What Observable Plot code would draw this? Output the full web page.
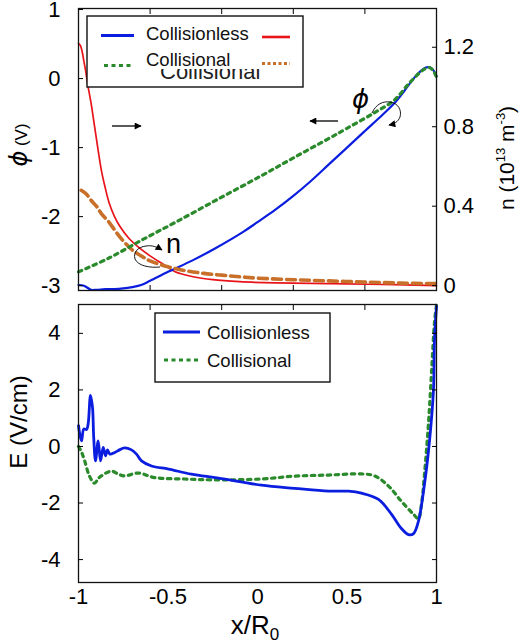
<!DOCTYPE html>
<html><head><meta charset="utf-8">
<script src="https://cdn.jsdelivr.net/npm/d3@7"></script>
<script src="https://cdn.jsdelivr.net/npm/@observablehq/plot@0.6"></script>
<style>
body{margin:0;background:#fff;font-family:"Liberation Sans",Arial,sans-serif}
#wrap{position:relative;width:520px;height:644px;overflow:hidden}
#overlay{position:absolute;left:0;top:0}
#top,#bot{display:block;line-height:0}
#top svg,#bot svg{overflow:visible}
</style></head><body>
<div id="wrap"><div id="top"></div><div id="bot"></div><svg id="overlay" width="520" height="644"></svg></div>
<script>
// ---------- data ----------
// Top panel: potential phi (V), left axis
const phiLessX = [-1, -0.97, -0.95, -0.93, -0.90, -0.85, -0.80, -0.75, -0.70, -0.65, -0.60, -0.50, -0.36, -0.23, -0.08, 0.0, 0.1, 0.2, 0.3, 0.4, 0.5, 0.6, 0.7, 0.76, 0.82, 0.86, 0.9, 0.94, 0.965, 0.985, 1.0];
const phiLess  = [-2.99, -3.0, -3.03, -3.06, -3.06, -3.05, -3.05, -3.04, -3.02, -2.99, -2.93, -2.80, -2.63, -2.45, -2.22, -2.08, -1.90, -1.70, -1.48, -1.24, -1.0, -0.76, -0.52, -0.37, -0.18, -0.04, 0.08, 0.16, 0.16, 0.11, 0.03];
const phiCollX = [-1, -0.83, -0.64, -0.457, -0.216, 0.02, 0.2, 0.39, 0.5, 0.65, 0.765, 0.843, 0.9, 0.935, 0.96, 0.98, 1.0];
const phiColl  = [-2.80, -2.60, -2.33, -2.08, -1.74, -1.41, -1.15, -0.88, -0.72, -0.50, -0.31, -0.08, 0.07, 0.14, 0.16, 0.12, 0.02];
// Top panel: density n (1e13 m^-3), right axis
const nLessX = [-1, -0.99, -0.98, -0.97, -0.96, -0.95, -0.93, -0.91, -0.89, -0.87, -0.85, -0.83, -0.80, -0.77, -0.72, -0.66, -0.60, -0.53, -0.46, -0.36, -0.25, -0.1, 0.1, 0.4, 0.7, 1.0];
const nLess  = [1.22, 1.21, 1.18, 1.13, 1.08, 1.02, 0.92, 0.80, 0.68, 0.57, 0.49, 0.42, 0.35, 0.30, 0.24, 0.19, 0.15, 0.11, 0.07, 0.045, 0.03, 0.02, 0.014, 0.01, 0.006, 0.0];
const nCollX = [-0.985, -0.955, -0.93, -0.90, -0.87, -0.83, -0.79, -0.75, -0.70, -0.65, -0.6, -0.5, -0.4, -0.3, -0.2, -0.1, 0, 0.2, 0.4, 0.6, 0.8, 1.0];
const nColl  = [0.48, 0.46, 0.43, 0.40, 0.36, 0.32, 0.27, 0.225, 0.18, 0.15, 0.125, 0.095, 0.075, 0.062, 0.053, 0.045, 0.038, 0.03, 0.024, 0.018, 0.013, 0.01];
// Bottom panel: electric field E (V/cm)
const eLessX = [-1, -0.993, -0.983, -0.970, -0.955, -0.946, -0.933, -0.922, -0.915, -0.905, -0.89, -0.877, -0.862, -0.849, -0.838, -0.825, -0.797, -0.771, -0.743, -0.704, -0.676, -0.648, -0.592, -0.497, -0.369, -0.218, 0.022, 0.207, 0.397, 0.508, 0.581, 0.676, 0.749, 0.804, 0.844, 0.872, 0.899, 0.933, 0.961, 0.983, 0.989, 1.0];
const eLess  = [0.74, 0.44, 0.2, 0.62, 0.6, 0.8, 1.81, 1.4, 0.32, -0.51, 0.2, -0.51, -0.03, -0.33, -0.12, -0.27, -0.21, -0.12, -0.05, -0.12, -0.27, -0.51, -0.69, -0.80, -0.98, -1.12, -1.37, -1.48, -1.58, -1.58, -1.65, -1.87, -2.4, -2.9, -3.12, -3.08, -2.65, -1.33, 0.2, 1.99, 3.78, 4.95];
const eCollX = [-1, -0.983, -0.966, -0.939, -0.911, -0.888, -0.872, -0.816, -0.777, -0.743, -0.665, -0.575, -0.408, -0.240, 0.022, 0.207, 0.397, 0.581, 0.654, 0.732, 0.804, 0.872, 0.899, 0.916, 0.933, 0.955, 0.972, 0.989, 1.0];
const eColl  = [0.0, -0.2, -0.5, -1.04, -1.3, -1.12, -1.04, -0.87, -0.98, -1.04, -0.94, -1.1, -1.15, -1.18, -1.15, -1.05, -1.01, -0.97, -1.04, -1.4, -1.94, -2.4, -2.55, -2.05, -0.97, 0.8, 2.6, 4.4, 5.0];
// tick values
const phiTicks = [1, 0, -1, -2, -3];
const nTicks = [0, 0.4, 0.8, 1.2];
const eTicks = [4, 2, 0, -2, -4];
const xLabelTicks = [-1, -0.5, 0, 0.5, 1];
const xMinorTicks = [-0.6, -0.2, 0.2, 0.6];
const seriesNames = ["Collisionless", "Collisional"];

// ---------- helpers ----------
const rows = (xs, ys) => xs.map((x, i) => ({x, y: ys[i]}));
const nToPhi = n => -3 + 2.878 * n;           // right-axis mapping onto the phi scale
const phiToN = p => (p + 3) / 2.878;
const FONT = "Liberation Sans, Arial, sans-serif";
const BLUE = "#0b1ee0", GREEN = "#2b8a2b", RED = "#e8141a", ORANGE = "#c8702a";
const fmt = d => String(Math.round(d * 10) / 10);

// ---------- top panel ----------
const topPlot = Plot.plot({
  width: 520, height: 300,
  marginTop: 8, marginBottom: 10, marginLeft: 78, marginRight: 84,
  x: {domain: [-1, 1]},
  y: {domain: [-3.07, 1.015]},
  style: {fontFamily: FONT, fontSize: "22px", background: "white", color: "black", overflow: "visible"},
  marks: [
    Plot.line(rows(nLessX, nLess), {x: "x", y: d => nToPhi(d.y), stroke: RED, strokeWidth: 1.7, curve: "catmull-rom"}),
    Plot.line(rows(phiLessX, phiLess), {x: "x", y: "y", stroke: BLUE, strokeWidth: 2.2, curve: "catmull-rom"}),
    Plot.line(rows(nCollX, nColl), {x: "x", y: d => nToPhi(d.y), stroke: ORANGE, strokeWidth: 3.6, strokeDasharray: "9 5", curve: "catmull-rom"}),
    Plot.line(rows(phiCollX, phiColl), {x: "x", y: "y", stroke: GREEN, strokeWidth: 3.2, strokeDasharray: "3.5 4.5", curve: "catmull-rom"}),
    Plot.frame({stroke: "#111", strokeWidth: 1.3}),
    Plot.axisY(phiTicks, {anchor: "left", tickSize: -5, tickPadding: 23, tickFormat: d => String(d), fontSize: 22, label: null}),
    Plot.axisY(nTicks.map(nToPhi), {anchor: "right", tickSize: -5, tickPadding: 12, tickFormat: d => fmt(phiToN(d)), fontSize: 22, label: null}),
    Plot.axisX(xMinorTicks, {anchor: "bottom", tickSize: -5, tickFormat: () => "", label: null}),
    Plot.axisX(xMinorTicks, {anchor: "top", tickSize: -5, tickFormat: () => "", label: null})
  ]
});
document.getElementById("top").append(topPlot);

// ---------- bottom panel ----------
const botPlot = Plot.plot({
  width: 520, height: 344,
  marginTop: 4, marginBottom: 62, marginLeft: 78, marginRight: 84,
  x: {domain: [-1, 1]},
  y: {domain: [-4.81, 5.02]},
  style: {fontFamily: FONT, fontSize: "22px", background: "white", color: "black", overflow: "visible"},
  marks: [
    Plot.line(rows(eCollX, eColl), {x: "x", y: "y", stroke: GREEN, strokeWidth: 3.2, strokeDasharray: "3.5 4.5", curve: "catmull-rom"}),
    Plot.line(rows(eLessX, eLess), {x: "x", y: "y", stroke: BLUE, strokeWidth: 2.8, curve: "catmull-rom"}),
    Plot.frame({stroke: "#111", strokeWidth: 1.3}),
    Plot.axisY(eTicks, {anchor: "left", tickSize: -5, tickPadding: 23, tickFormat: d => String(d), fontSize: 22, label: null}),
    Plot.axisY(eTicks, {anchor: "right", tickSize: -5, tickFormat: () => "", label: null}),
    Plot.axisX(xLabelTicks, {anchor: "bottom", tickSize: 0, tickPadding: 6, tickFormat: d => String(d), fontSize: 22, label: null}),
    Plot.axisX(xMinorTicks, {anchor: "top", tickSize: -5, tickFormat: () => "", label: null})
  ]
});
document.getElementById("bot").append(botPlot);

// ---------- overlay: legends, annotations, axis titles ----------
const svg = d3.select("#overlay").style("font-family", FONT);
const defs = svg.append("defs");
defs.append("marker").attr("id", "ah").attr("viewBox", "0 0 10 10")
  .attr("refX", 9).attr("refY", 5).attr("markerWidth", 9).attr("markerHeight", 7)
  .attr("markerUnits", "userSpaceOnUse").attr("orient", "auto")
  .append("path").attr("d", "M0,0L10,5L0,10z").attr("fill", "black");
defs.append("clipPath").attr("id", "ghostclip").append("rect")
  .attr("x", 150).attr("y", 69).attr("width", 130).attr("height", 17);

// top legend
const lg = svg.append("g");
lg.append("rect").attr("x", 87).attr("y", 16).attr("width", 216).attr("height", 71)
  .attr("fill", "white").attr("stroke", "#111").attr("stroke-width", 1.4);
lg.append("text").attr("x", 160).attr("y", 79).attr("font-size", 22).attr("fill", "#222")
  .attr("clip-path", "url(#ghostclip)").text(seriesNames[1]);
lg.append("line").attr("x1", 101).attr("x2", 134).attr("y1", 35.5).attr("y2", 35.5).attr("stroke", BLUE).attr("stroke-width", 3);
lg.append("line").attr("x1", 262).attr("x2", 290).attr("y1", 37).attr("y2", 37).attr("stroke", RED).attr("stroke-width", 2.6);
lg.append("line").attr("x1", 104).attr("x2", 134).attr("y1", 65.5).attr("y2", 65.5).attr("stroke", GREEN).attr("stroke-width", 3).attr("stroke-dasharray", "4,3.5");
lg.append("line").attr("x1", 262).attr("x2", 290).attr("y1", 63.5).attr("y2", 63.5).attr("stroke", ORANGE).attr("stroke-width", 3).attr("stroke-dasharray", "3,2.5");
lg.append("text").attr("x", 146).attr("y", 40).attr("font-size", 18.5).attr("fill", "#111").text(seriesNames[0]);
lg.append("text").attr("x", 146).attr("y", 66).attr("font-size", 18.5).attr("fill", "#111").text(seriesNames[1]);

// bottom legend
const lb = svg.append("g");
lb.append("rect").attr("x", 155).attr("y", 313).attr("width", 175).attr("height", 69)
  .attr("fill", "white").attr("stroke", "#111").attr("stroke-width", 1.4);
lb.append("line").attr("x1", 163).attr("x2", 200).attr("y1", 332).attr("y2", 332).attr("stroke", BLUE).attr("stroke-width", 3.2);
lb.append("line").attr("x1", 164).attr("x2", 200).attr("y1", 360).attr("y2", 360).attr("stroke", GREEN).attr("stroke-width", 3).attr("stroke-dasharray", "4,3.5");
lb.append("text").attr("x", 207).attr("y", 338.5).attr("font-size", 18.5).attr("fill", "#111").text(seriesNames[0]);
lb.append("text").attr("x", 207).attr("y", 366.5).attr("font-size", 18.5).attr("fill", "#111").text(seriesNames[1]);

// annotation arrows
const an = svg.append("g").attr("fill", "none").attr("stroke", "black");
an.append("line").attr("x1", 112).attr("x2", 141).attr("y1", 126).attr("y2", 126).attr("stroke-width", 1.3).attr("marker-end", "url(#ah)");
an.append("line").attr("x1", 338).attr("x2", 310).attr("y1", 121).attr("y2", 121).attr("stroke-width", 1.3).attr("marker-end", "url(#ah)");
an.append("path").attr("d", "M372,113 C376,104 383,101 390,102 C398,103 402,110 400,117 C398,122 394,124 389,125")
  .attr("stroke-width", 0.9).attr("marker-end", "url(#ah)");
an.append("path").attr("d", "M160,267 C150,268 138,266 135,259 C133,252 138,247 146,246 C152,245 157,247 162,250")
  .attr("stroke-width", 0.9).attr("marker-end", "url(#ah)");
svg.append("text").attr("x", 352).attr("y", 108).attr("font-size", 26).attr("font-style", "italic")
  .attr("font-family", "DejaVu Sans").text("ϕ");
svg.append("text").attr("x", 166).attr("y", 253).attr("font-size", 27).text("n");

// axis titles
const t1 = svg.append("text").attr("transform", "translate(27,145) rotate(-90)").attr("text-anchor", "middle");
t1.append("tspan").attr("font-family", "DejaVu Sans").attr("font-style", "italic").attr("font-size", 24).text("ϕ");
t1.append("tspan").attr("font-size", 17).text(" (V)");
svg.append("text").attr("transform", "translate(27,422) rotate(-90)").attr("text-anchor", "middle")
  .attr("font-size", 24).text("E (V/cm)");
const t3 = svg.append("text").attr("transform", "translate(514,158) rotate(-90)").attr("text-anchor", "middle").attr("font-size", 21);
t3.append("tspan").text("n (10");
t3.append("tspan").attr("font-size", 13).attr("dy", -9).text("13");
t3.append("tspan").attr("dy", 9).text(" m");
t3.append("tspan").attr("font-size", 13).attr("dy", -9).text("-3");
t3.append("tspan").attr("dy", 9).text(")");
const t4 = svg.append("text").attr("x", 255).attr("y", 634).attr("text-anchor", "middle").attr("font-size", 26);
t4.append("tspan").text("x/R");
t4.append("tspan").attr("font-size", 17).attr("dy", 6).text("0");
</script>
</body></html>
